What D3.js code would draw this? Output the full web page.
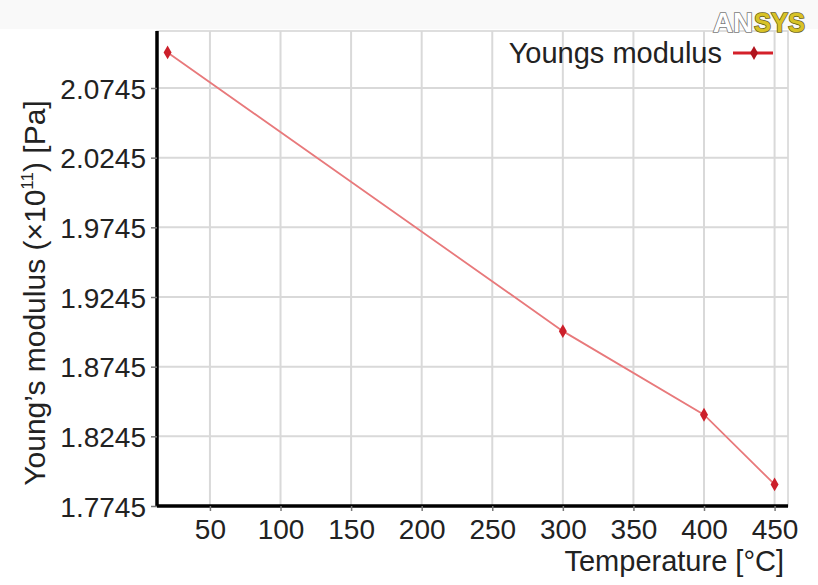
<!DOCTYPE html>
<html>
<head>
<meta charset="utf-8">
<script src="https://cdn.jsdelivr.net/npm/d3@7"></script>
<style>
  body { margin: 0; background: #fff; }
  text { font-family: "Liberation Sans", Arial, sans-serif; fill: #222; }
</style>
</head>
<body>
<div id="chart"></div>
<script>
var svgWidth = 818;
var svgHeight = 585;

var margin = {top: 31, right: 30, bottom: 79, left: 157};

var width = svgWidth - margin.left - margin.right;
var height = svgHeight - margin.top - margin.bottom;

// data
var temperatures = [20, 300, 400, 450];
var youngsModulus = [2.1, 1.9, 1.84, 1.79];
var xTicks = [50, 100, 150, 200, 250, 300, 350, 400, 450];
var yTicks = [1.7745, 1.8245, 1.8745, 1.9245, 1.9745, 2.0245, 2.0745];
var seriesName = "Youngs modulus";

var svg = d3.select("#chart")
  .append("svg")
  .attr("width", svgWidth)
  .attr("height", svgHeight);

// faint grey strip at the top
svg.append("rect")
  .attr("width", svgWidth)
  .attr("height", margin.top - 2)
  .attr("fill", "#f9f9f9");

var chartGroup = svg.append("g")
  .attr("transform", `translate(${margin.left}, ${margin.top})`);

var xLinearScale = d3.scaleLinear()
  .domain([12.5, 459.5])
  .range([0, width]);

var yLinearScale = d3.scaleLinear()
  .domain([1.7745, 2.1154])
  .range([height, 0]);

// plot frame
chartGroup.append("rect")
  .attr("width", width)
  .attr("height", height)
  .attr("fill", "#fff")
  .attr("stroke", "#d4d4d4")
  .attr("stroke-width", 1.5);

// grid lines
chartGroup.append("g")
  .selectAll("line")
  .data(xTicks)
  .enter()
  .append("line")
  .attr("x1", d => xLinearScale(d))
  .attr("x2", d => xLinearScale(d))
  .attr("y1", 0)
  .attr("y2", height)
  .attr("stroke", "#d9d9d9")
  .attr("stroke-width", 2);

chartGroup.append("g")
  .selectAll("line")
  .data(yTicks)
  .enter()
  .append("line")
  .attr("x1", 0)
  .attr("x2", width)
  .attr("y1", d => yLinearScale(d))
  .attr("y2", d => yLinearScale(d))
  .attr("stroke", "#d9d9d9")
  .attr("stroke-width", 2);

// axes
var bottomAxis = d3.axisBottom(xLinearScale)
  .tickValues(xTicks)
  .tickSize(5)
  .tickPadding(8)
  .tickFormat(d3.format("d"));

var leftAxis = d3.axisLeft(yLinearScale)
  .tickValues(yTicks)
  .tickSize(6)
  .tickPadding(5)
  .tickFormat(d3.format(".4f"));

var xAxis = chartGroup.append("g")
  .attr("transform", `translate(0, ${height})`)
  .call(bottomAxis);

var yAxis = chartGroup.append("g")
  .call(leftAxis);

[xAxis, yAxis].forEach(function (ax) {
  ax.select(".domain")
    .attr("stroke", "#000")
    .attr("stroke-width", 3.5);
  ax.selectAll(".tick line")
    .attr("stroke", "#777")
    .attr("stroke-width", 1.5);
  ax.selectAll(".tick text")
    .attr("font-size", 28)
    .attr("fill", "#222");
});
xAxis.select(".domain").attr("d", `M0,0H${width}`);
yAxis.select(".domain").attr("d", `M0,0V${height}`);
xAxis.selectAll(".tick text").attr("dy", "0.72em");
yAxis.selectAll(".tick text").attr("dy", "0.36em");

// the series
var points = temperatures.map((t, i) => ({x: t, y: youngsModulus[i]}));

var line = d3.line()
  .x(d => xLinearScale(d.x))
  .y(d => yLinearScale(d.y));

chartGroup.append("path")
  .datum(points)
  .attr("d", line)
  .attr("fill", "none")
  .attr("stroke", "#e8797b")
  .attr("stroke-width", 1.8);

var diamond = d3.symbol().type(d3.symbolDiamond).size(55);

chartGroup.selectAll(".marker")
  .data(points)
  .enter()
  .append("path")
  .attr("class", "marker")
  .attr("d", diamond)
  .attr("transform", d => `translate(${xLinearScale(d.x)}, ${yLinearScale(d.y)})`)
  .attr("fill", "#cc1f2a");

// legend
var legend = svg.append("g")
  .attr("transform", "translate(733, 53)");

legend.append("text")
  .attr("x", -11)
  .attr("y", 10)
  .attr("text-anchor", "end")
  .attr("font-size", 29)
  .text(seriesName);

legend.append("line")
  .attr("x1", 0)
  .attr("x2", 40)
  .attr("y1", 0)
  .attr("y2", 0)
  .attr("stroke", "#d4202a")
  .attr("stroke-width", 3);

legend.append("path")
  .attr("d", diamond)
  .attr("transform", "translate(21, 0)")
  .attr("fill", "#b0141e");

// axis titles
svg.append("text")
  .attr("x", 784)
  .attr("y", 571)
  .attr("text-anchor", "end")
  .attr("font-size", 29)
  .text("Temperature [°C]");

var yTitle = svg.append("text")
  .attr("transform", "translate(45, 293) rotate(-90)")
  .attr("text-anchor", "middle")
  .attr("font-size", 30);
yTitle.append("tspan").text("Young’s modulus (×10");
yTitle.append("tspan").attr("font-size", 17).attr("dy", -12).text("11");
yTitle.append("tspan").attr("dy", 12).text(") [Pa]");

// ANSYS logo
svg.append("text")
  .attr("x", 713)
  .attr("y", 32)
  .attr("font-size", 27)
  .attr("font-weight", "bold")
  .attr("textLength", 40)
  .attr("lengthAdjust", "spacingAndGlyphs")
  .attr("stroke-width", 1.6)
  .attr("paint-order", "stroke")
  .attr("fill", "#fff")
  .attr("stroke", "#7a7a7a")
  .style("fill", "#fff")
  .text("AN");

svg.append("text")
  .attr("x", 754)
  .attr("y", 32)
  .attr("font-size", 27)
  .attr("font-weight", "bold")
  .attr("textLength", 51)
  .attr("lengthAdjust", "spacingAndGlyphs")
  .attr("stroke-width", 1.6)
  .attr("paint-order", "stroke")
  .attr("stroke", "#6b6420")
  .style("fill", "#d8c227")
  .text("SYS");
</script>
</body>
</html>
